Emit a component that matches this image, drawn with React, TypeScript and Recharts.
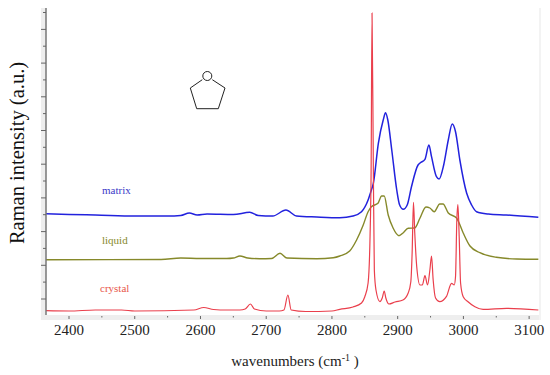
import { LineChart, Line, XAxis, YAxis } from "recharts";

// heights are arbitrary intensity units
const crystalWave = [2365, 2400, 2440, 2480, 2500, 2590, 2605, 2620, 2640, 2660, 2668, 2676, 2682, 2700, 2720, 2727, 2733, 2738, 2760, 2800, 2812, 2832, 2845, 2850, 2855, 2858, 2859.6, 2861, 2863, 2864.5, 2867, 2873, 2876.5, 2879.5, 2882, 2886.7, 2896, 2908, 2916, 2920, 2922, 2924, 2926, 2929, 2934, 2937.5, 2941.5, 2945.5, 2949, 2951.5, 2954, 2957.6, 2964, 2974, 2982, 2986, 2988, 2990, 2991.6, 2993.6, 2995.7, 2999.7, 3007, 3017.5, 3030, 3065.6, 3114];
const crystalValues = [4.3, 4, 5, 5, 4, 5, 7.5, 5.5, 5, 5, 6, 11, 6, 4, 4, 5, 20, 5, 3.5, 4, 5.7, 8, 12, 18.3, 32, 79, 145, 302, 145, 45, 25, 13.3, 17, 24, 17, 11, 13, 15, 22, 33.3, 62, 112.7, 82, 48.3, 30, 30, 39.3, 30, 45, 59, 35, 17, 13.3, 18.3, 31.7, 30, 38.3, 95, 110.3, 78.3, 32, 18.3, 13.3, 8.3, 5.7, 6.7, 5];

const liquidWave = [2365, 2540, 2570, 2600, 2640, 2650, 2660, 2672, 2690, 2708, 2721, 2731.6, 2777, 2802, 2812, 2827, 2837.5, 2847.6, 2855, 2860, 2870, 2875.6, 2879.5, 2885.6, 2893, 2902, 2908.5, 2916, 2926, 2934, 2943, 2949, 2955.6, 2964, 2969, 2977, 2989.6, 2999.7, 3010, 3025, 3050, 3081, 3114];
const liquidValues = [55.3, 55.5, 57, 56.5, 56.5, 57, 59, 57, 56.3, 56.5, 61.7, 57, 56.3, 57.3, 59, 64, 75, 90, 103.3, 108.3, 111.7, 119, 119, 100, 87, 79.3, 82.3, 86.7, 87, 97, 108, 107, 103.3, 111, 111, 102, 97, 82, 69, 62.3, 57.7, 56, 55.7];

const matrixWave = [2365, 2400, 2440, 2500, 2550, 2570, 2583, 2595, 2610, 2650, 2675, 2688, 2710, 2730, 2746, 2777, 2812, 2832, 2845, 2855, 2860, 2863, 2870.6, 2878, 2881.6, 2885, 2891, 2898.6, 2903, 2908.5, 2914.5, 2921, 2931, 2934, 2941.5, 2947.5, 2951.5, 2959, 2963, 2970, 2977, 2983, 2988, 2994.6, 3005, 3012.5, 3020, 3038, 3065, 3114];
const matrixValues = [101.3, 100.5, 100, 99, 99, 99.5, 102, 100, 101, 100.5, 102.7, 99.5, 99, 105, 99, 98, 97.3, 99, 103.3, 115, 125, 131.7, 171.7, 195, 202.3, 195, 165, 125, 110, 105.7, 110, 128.3, 150, 152, 155.7, 170, 158.3, 138.3, 136, 150, 175, 191, 183.3, 155, 121.7, 110, 103.3, 101, 100, 97.7];

const xTicks = [2400, 2450, 2500, 2550, 2600, 2650, 2700, 2750, 2800, 2850, 2900, 2950, 3000, 3050, 3100];
const yTicks = [16, 32.9, 49.7, 66.6, 83.4, 100.3, 117.1, 134, 150.8, 167.7, 184.5, 201.4, 218.2, 235.1, 251.9, 268.8, 285.6, 302.5];

const toPoints = (waves: number[], values: number[]) =>
  waves.map((wavenumber, i) => ({ wavenumber, value: values[i] }));

const SERIF = "'Liberation Serif', serif";

function XTick({ x, y, payload }: any) {
  const major = payload.value % 100 === 0;
  return (
    <g>
      <line x1={x} x2={x} y1={y + 1} y2={y + (major ? 4 : 2.5)} stroke="#666" />
      {major && (
        <text x={x} y={y + 20} textAnchor="middle" fontSize={15} fill="#222" fontFamily={SERIF}>
          {payload.value}
        </text>
      )}
    </g>
  );
}

function YTick({ x, y, index }: any) {
  const major = index % 2 === 0;
  return <line x1={x - (major ? 5 : 3)} x2={x} y1={y} y2={y} stroke="#666" />;
}

export default function App() {
  return (
    <div style={{ position: "absolute", left: 0, top: 0, background: "#fff" }}>
      <LineChart width={550} height={375} margin={{ top: 8, right: 11, left: 0, bottom: 0 }}>
        <rect x={41} y={8} width={5} height={312} fill="#eee" />
        <rect x={41} y={315} width={498} height={5} fill="#eee" />
        <rect x={539} y={8} width={2} height={312} fill="#f3f3f3" />
        <XAxis
          dataKey="wavenumber"
          type="number"
          domain={[2365, 3115]}
          ticks={xTicks}
          tick={<XTick />}
          tickLine={false}
          tickSize={0}
          tickMargin={0}
          axisLine={false}
          height={60}
          interval={0}
        />
        <YAxis
          type="number"
          domain={[0, 307]}
          ticks={yTicks}
          tick={<YTick />}
          tickLine={false}
          tickSize={0}
          tickMargin={0}
          axisLine={{ stroke: "#777", strokeWidth: 1.5 }}
          width={46}
          interval={0}
        />
        <Line type="monotone" data={toPoints(matrixWave, matrixValues)} dataKey="value" stroke="#2222dd" strokeWidth={1.5} dot={false} isAnimationActive={false} />
        <Line type="monotone" data={toPoints(liquidWave, liquidValues)} dataKey="value" stroke="#86892a" strokeWidth={1.4} dot={false} isAnimationActive={false} />
        <Line type="monotone" data={toPoints(crystalWave, crystalValues)} dataKey="value" stroke="#ea3f4c" strokeWidth={1.2} dot={false} isAnimationActive={false} />

        <text x={102} y={194} fontSize={11} fill="#3a3ac8" fontFamily={SERIF}>matrix</text>
        <text x={102} y={244} fontSize={11} fill="#86892a" fontFamily={SERIF}>liquid</text>
        <text x={100} y={292} fontSize={11} fill="#e8564a" fontFamily={SERIF}>crystal</text>

        <text
          transform="translate(24,153) rotate(-90)"
          textAnchor="middle"
          fontSize={20.5}
          fill="#111"
          fontFamily={SERIF}
        >
          Raman intensity (a.u.)
        </text>
        <text x={295} y={366} textAnchor="middle" fontSize={15} fill="#222" fontFamily={SERIF}>
          wavenumbers (cm<tspan dy={-5} fontSize={10}>-1</tspan><tspan dy={5}> )</tspan>
        </text>

        {/* tetrahydrofuran ring */}
        <polyline
          points="202.3,79.7 190.3,88 196.7,108.7 218.3,108.7 225,88 212.3,79.7"
          fill="none"
          stroke="#222"
          strokeWidth={1}
        />
        <circle cx={207.3} cy={76} r={4.5} fill="none" stroke="#222" strokeWidth={1} />
      </LineChart>
    </div>
  );
}
